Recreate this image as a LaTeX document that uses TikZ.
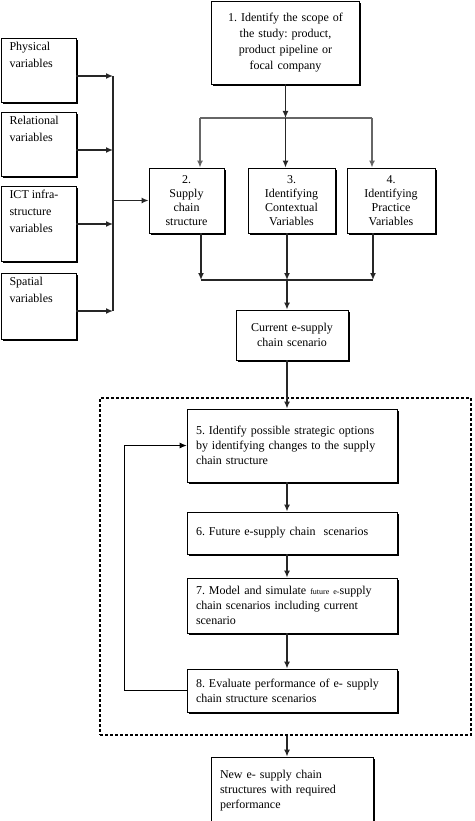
\documentclass[tikz,border=0pt]{standalone}
\usepackage{fontspec}
\setmainfont{Liberation Serif}
\frenchspacing
\usetikzlibrary{arrows.meta}
\usetikzlibrary{positioning}
\usetikzlibrary{shadows}

\newcommand{\toptext}[2]{\parbox[c][#1][t]{58pt}{\raggedright #2}}

\tikzset{
  box/.style={draw, fill=white, line width=0.8pt, inner sep=4pt,
    font=\fontsize{12}{15}\selectfont,
    drop shadow={fill=black, opacity=1, shadow xshift=1.6pt, shadow yshift=-1.6pt}},
  varbox/.style={box, minimum width=75pt, font=\fontsize{12}{17}\selectfont},
  idbox/.style={box, align=center, minimum height=65pt, inner ysep=3pt, font=\fontsize{12}{14}\selectfont},
  stepbox/.style={box, text width=192pt, inner xsep=9pt, align=left},
  frame/.style={draw, line width=1.3pt, dash pattern=on 3pt off 2pt},
  thick line/.style={line width=1.7pt, black!85},
  thick arrow/.style={thick line, -{Latex[length=7pt,width=6pt]}},
  gray line/.style={line width=1.8pt, black!60},
  gray arrow/.style={gray line, -{Latex[length=7pt,width=6pt,fill=black!85]}},
  thin arrow/.style={line width=0.8pt, -{Latex[length=7pt,width=6pt]}}
}

\begin{document}
\begin{tikzpicture}[x=1pt, y=-1pt]
  \useasboundingbox (0,0) rectangle (474,821);

  % variables on the left
  \node[varbox] (phys) at (38.5,70) {\toptext{56pt}{Physical\\variables}};
  \node[varbox] (rel) at (38.5,144) {\toptext{56pt}{Relational\\variables}};
  \node[varbox] (ict) at (38.5,223.5) {\toptext{67pt}{ICT infra-\\structure\\variables}};
  \node[varbox] (spat) at (38.5,306) {\toptext{58pt}{Spatial\\variables}};

  % top part
  \node[box, text width=140pt, align=center, minimum height=83pt, font=\fontsize{12}{16}\selectfont] (scope) at (285.5,42.5)
    {1. Identify the scope of\\the study: product,\\product pipeline or\\focal company};
  \node[idbox, text width=67pt] (struct) at (186.5,200.5) {2.\\Supply\\chain\\structure};
  \node[idbox, text width=79pt] (context) at (291.5,200.5) {3.\\Identifying\\Contextual\\Variables};
  \node[idbox, text width=80pt] (practice) at (391,200.5) {4.\\Identifying\\Practice\\Variables};
  \node[box, text width=104pt, align=center, minimum height=50pt] (current) at (292,335)
    {Current e-supply\\chain scenario};

  % loop
  \node[frame, minimum width=371pt, minimum height=337pt] (loop) at (285.5,566.5) {};
  \node[stepbox, minimum height=73pt] (options) at (292,445.5)
    {5. Identify possible strategic options\\by identifying changes to the supply\\chain structure};
  \node[stepbox, minimum height=42pt] (future) at (292,533)
    {6. Future e-supply chain\ \ scenarios};
  \node[stepbox, minimum height=55pt] (model) at (292,605.5)
    {7. Model and simulate {\fontsize{8}{10}\selectfont future e-}supply\\chain scenarios including current\\scenario};
  \node[stepbox, minimum height=43pt] (eval) at (292,690.5)
    {8. Evaluate performance of e- supply\\chain structure scenarios};
  \node[box, text width=144pt, inner xsep=9pt, align=left, minimum height=68pt] (result) at (292,791)
    {New e- supply chain\\structures with required\\performance};

  % helper coordinates
  \coordinate (bus) at (113,0);
  \coordinate (spine) at (287,0);
  \coordinate (back) at (124,0);
  \coordinate (splitA) at (200,118);
  \coordinate (splitB) at (285.5,118);
  \coordinate (splitC) at (372,118);
  \coordinate (joinA) at (201,280);
  \coordinate (joinB) at (287,280);
  \coordinate (joinC) at (373,280);
  \coordinate (physout) at ([yshift=-6pt]phys.east);
  \coordinate (relout) at ([yshift=-6pt]rel.east);
  \coordinate (ictout) at ([yshift=-0.5pt]ict.east);
  \coordinate (spatout) at ([yshift=-5pt]spat.east);

  % variables into the structure
  \draw[thick arrow] (physout) -- (physout -| bus);
  \draw[thick arrow] (relout) -- (relout -| bus);
  \draw[thick arrow] (ictout) -- (ictout -| bus);
  \draw[thick arrow] (spatout) -- (spatout -| bus);
  \draw[thick line] (physout -| bus) -- (spatout -| bus);
  \draw[thick arrow] (bus |- struct.west) -- (struct.west);

  % scope splits into 2, 3, 4
  \draw[gray line] (splitA) -- (splitC);
  \draw[gray arrow] (splitA) -- (splitA |- struct.north);
  \draw[thick arrow] (splitB) -- (splitB |- context.north);
  \draw[gray arrow] (splitC) -- (splitC |- practice.north);
  \draw[thick arrow] (scope.south) -- (splitB);

  % 2, 3, 4 join
  \draw[thick arrow] (joinA |- struct.south) -- (joinA);
  \draw[thick arrow] (joinB |- context.south) -- (joinB);
  \draw[thick arrow] (joinC |- practice.south) -- (joinC);
  \draw[thick line] (joinA) -- (joinC);
  \draw[thick arrow] (joinB) -- (joinB |- current.north);

  % main column
  \draw[thick arrow] (spine |- current.south) -- (spine |- options.north);
  \draw[thick arrow] (spine |- options.south) -- (spine |- future.north);
  \draw[thick arrow] (spine |- future.south) -- (spine |- model.north);
  \draw[thick arrow] (spine |- model.south) -- (spine |- eval.north);
  \draw[thick arrow] (spine |- loop.south) -- (spine |- result.north);

  % feedback
  \draw[thin arrow] (eval.west) -- (eval.west -| back) |- (options.west);
\end{tikzpicture}
\end{document}
